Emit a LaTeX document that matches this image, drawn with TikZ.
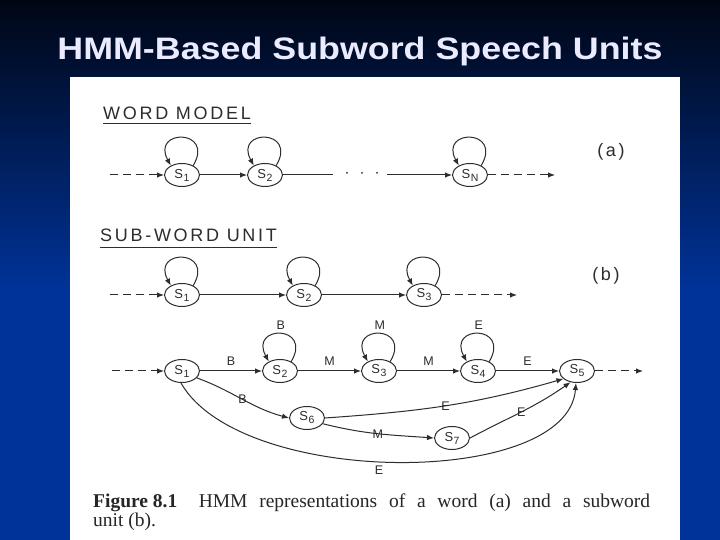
\documentclass[tikz,border=0pt]{standalone}
\usepackage{fontspec}
\setmainfont{Liberation Serif}
\setsansfont{Liberation Sans}
\newfontfamily\figfont{Liberation Sans}
\newfontfamily\headfont[LetterSpace=15]{Liberation Sans}
\usetikzlibrary{shapes.geometric,arrows.meta}
\definecolor{bgtop}{RGB}{0,6,20}
\definecolor{bgblue}{RGB}{0,51,153}
\definecolor{ink}{RGB}{45,45,45}
\definecolor{titlecol}{RGB}{235,235,255}
\newcommand{\sn}[1]{S\kern0.5pt\raisebox{-3pt}{\fontsize{10.5}{10.5}\selectfont #1}}
\newcommand{\hmmloop}[1]{\draw[arr] (#1.40) .. controls +(22,37) and +(-20,37) .. (#1.140);}
\newcommand{\hmmloopl}[2]{\draw[arr] (#1.40) .. controls +(22,37) and +(-20,37) .. (#1.140) node[lbl,pos=0.5,above=3pt]{#2};}
\begin{document}
\begin{tikzpicture}[x=1pt,y=1pt,
  st/.style={ellipse,draw=ink,line width=1pt,minimum width=35pt,minimum height=23pt,inner sep=0pt,font=\figfont\fontsize{13}{13}\selectfont,text=ink},
  arr/.style={draw=ink,line width=1pt,-{Latex[length=7pt,width=5.5pt]}},
  ln/.style={draw=ink,line width=1pt},
  dsh/.style={dash pattern=on 8pt off 5pt},
  lbl/.style={font=\figfont\fontsize{12.5}{12.5}\selectfont,text=ink,inner sep=1pt},
  hd/.style={font=\headfont\fontsize{18}{18}\selectfont,text=ink,inner sep=0pt}]
\useasboundingbox (0,0) rectangle (720,540);
\fill[bgblue] (0,0) rectangle (720,540);
\shade[top color=bgtop,bottom color=bgblue] (0,250) rectangle (720,540);
\fill[white] (70,0) rectangle (680,463);
% title
\node[anchor=base,text=titlecol,inner sep=0pt] (title) at (360,480)
  {\resizebox{605pt}{22.5pt}{\sffamily\bfseries HMM-Based Subword Speech Units}};
% headings
\node[hd,anchor=base west] (wm) at (103,420) {WORD MODEL};
\draw[ln] ([yshift=-3pt]wm.south west) -- ([yshift=-3pt]wm.south east);
\node[hd,anchor=base west] (sw) at (100,298) {SUB-WORD UNIT};
\draw[ln] ([yshift=-5pt]sw.south west) -- ([yshift=-5pt]sw.south east);
\node[hd] (pa) at (611,388) {(a)};
\node[hd] (pb) at (606,264) {(b)};
% row a
\node[st] (a1) at (182,365) {\sn{1}};
\node[st] (a2) at (265,365) {\sn{2}};
\node[st] (aN) at (470,365) {\sn{N}};
\coordinate (a0) at (110,365);
\coordinate (ag1) at (333,365);
\coordinate (ag2) at (387,365);
\coordinate (ae) at (555,365);
\draw[arr,dsh] (a0) -- (a1);
\draw[arr] (a1) -- (a2);
\draw[ln] (a2) -- (ag1);
\fill[ink] (347,367) circle (1pt) (362,367) circle (1pt) (377,367) circle (1pt);
\draw[arr] (ag2) -- (aN);
\draw[arr,dsh] (aN) -- (ae);
\hmmloop{a1}
\hmmloop{a2}
\hmmloop{aN}
% row b
\node[st] (b1) at (182,245) {\sn{1}};
\node[st] (b2) at (304,245) {\sn{2}};
\node[st] (b3) at (424,245) {\sn{3}};
\coordinate (b0) at (110,245);
\coordinate (be) at (517,245);
\draw[arr,dsh] (b0) -- (b1);
\draw[arr] (b1) -- (b2);
\draw[arr] (b2) -- (b3);
\draw[arr,dsh] (b3) -- (be);
\hmmloop{b1}
\hmmloop{b2}
\hmmloop{b3}
% row c
\node[st] (c1) at (182,169) {\sn{1}};
\node[st] (c2) at (280,169) {\sn{2}};
\node[st] (c3) at (379,169) {\sn{3}};
\node[st] (c4) at (478,169) {\sn{4}};
\node[st] (c5) at (577,169) {\sn{5}};
\node[st] (c6) at (307,122) {\sn{6}};
\node[st] (c7) at (452,102) {\sn{7}};
\coordinate (c0) at (112,169);
\coordinate (ce) at (643,169);
\draw[arr,dsh] (c0) -- (c1);
\draw[arr] (c1) -- node[lbl,above=4pt]{B} (c2);
\draw[arr] (c2) -- node[lbl,above=4pt]{M} (c3);
\draw[arr] (c3) -- node[lbl,above=4pt]{M} (c4);
\draw[arr] (c4) -- node[lbl,above=4pt]{E} (c5);
\draw[arr,dsh] (c5) -- (ce);
\hmmloopl{c2}{B}
\hmmloopl{c3}{M}
\hmmloopl{c4}{E}
\draw[arr] (c1.-25) to[out=-20,in=165] node[lbl,at={(238,133)}]{B} (c6.west);
\draw[arr] (c6.east) to[out=4,in=-164] node[lbl,at={(478,130)}]{E} (c5.-150);
\draw[arr] (c6.-20) to[out=-14,in=176] node[lbl,at={(368,99)}]{M} (c7.west);
\draw[arr] (c7.east) to[out=28,in=-145] node[lbl,at={(527,115)}]{E} (c5.-120);
\draw[arr] (c1.-95) .. controls +(60,-105) and +(-8,-105) .. (c5.-95) node[lbl,at={(379,70)}]{E};
% caption
\node[anchor=north west,inner sep=0pt,text width=557pt,align=justify,
  font=\fontsize{19.5}{19}\selectfont,text=black!85] (cap) at (93,46)
  {\textbf{Figure\kern0.25em 8.1}\hspace{1.1em}HMM representations of a word (a) and a subword\linebreak unit (b).};
\end{tikzpicture}
\end{document}
